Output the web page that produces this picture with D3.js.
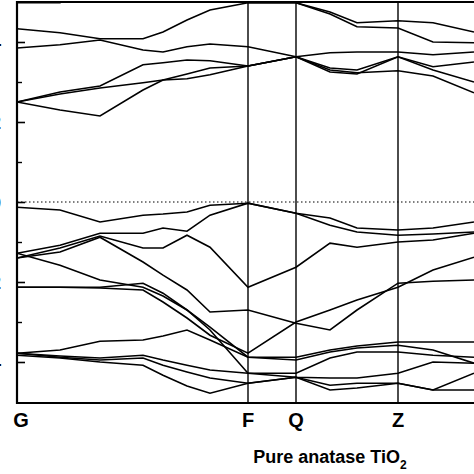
<!DOCTYPE html>
<html>
<head>
<meta charset="utf-8">
<script src="https://cdn.jsdelivr.net/npm/d3@7"></script>
<style>
  body { margin: 0; background: #fff; }
  text { font-family: "Liberation Sans", Arial, sans-serif; font-weight: bold; }
</style>
</head>
<body>
<svg id="chart" width="474" height="474"></svg>
<script>
// k-path positions (arbitrary units) and high-symmetry points
var kPoints = [0, 43, 83, 126, 146, 170, 193, 231, 279, 313, 340, 381, 416, 457];
var symLabels = ["G", "F", "Q", "Z"];
var symK = [0, 231, 279, 381];
var yTicks = [-4, -2, 0, 2, 4];
var yMinor = [-3, -1, 1, 3];

// conduction bands (eV)
var conduction = [
  [4.98, 4.98, 5.55, 5.55, 5.55, 5.55, 5.55, 4.98, 4.98, 4.75, 4.48, 4.53, 4.48, 4.25],
  [4.33, 4.23, 4.08, 4.08, 4.25, 4.55, 4.80, 4.98, 4.98, 4.70, 4.38, 4.35, 4.00, 3.98],
  [3.85, 3.93, 4.05, 3.80, 3.75, 3.88, 3.95, 3.88, 3.63, 3.73, 3.75, 3.75, 3.68, 3.75],
  [2.50, 2.75, 2.90, 3.43, 3.48, 3.55, 3.53, 3.40, 3.63, 3.35, 3.30, 3.63, 3.38, 3.50],
  [2.50, 2.70, 2.85, 2.98, 3.05, 3.08, 3.18, 3.40, 3.63, 3.25, 3.20, 3.63, 3.30, 3.00],
  [2.50, 2.30, 2.15, 2.80, 3.05, 3.20, 3.35, 3.40, 3.63, 3.30, 3.23, 3.28, 3.15, 2.73]
];

// valence bands (eV)
var valence = [
  [-0.13, -0.20, -0.50, -0.33, -0.30, -0.25, -0.08, -0.03, -0.28, -0.40, -0.65, -0.70, -0.65, -0.50],
  [-1.28, -1.08, -0.78, -0.78, -0.65, -0.73, -0.33, -0.03, -0.28, -0.58, -0.75, -0.83, -0.80, -0.75],
  [-1.40, -1.15, -0.85, -1.15, -1.15, -0.83, -1.13, -2.13, -1.63, -1.03, -1.13, -1.00, -0.95, -0.78],
  [-1.40, -1.25, -0.88, -1.50, -1.83, -2.20, -2.75, -2.70, -3.03, -3.20, -2.70, -2.03, -1.98, -1.95],
  [-1.28, -1.58, -1.95, -2.13, -2.35, -2.70, -3.13, -3.88, -3.88, -3.70, -3.60, -3.50, -3.50, -3.50],
  [-2.13, -2.13, -2.13, -2.03, -2.28, -2.70, -3.20, -4.28, -4.28, -3.90, -3.75, -3.75, -3.83, -3.88],
  [-2.13, -2.13, -2.15, -2.20, -2.50, -2.90, -3.33, -3.78, -3.00, -2.70, -2.45, -2.13, -1.70, -1.38],
  [-3.78, -3.70, -3.48, -3.45, -3.35, -3.20, -3.45, -3.88, -3.95, -3.75, -3.65, -3.58, -3.70, -4.03],
  [-3.78, -3.85, -3.90, -3.83, -3.95, -4.08, -4.20, -4.28, -4.38, -4.40, -4.40, -4.28, -4.00, -4.03],
  [-3.78, -3.88, -3.95, -3.90, -4.08, -4.25, -4.40, -4.53, -4.38, -4.58, -4.53, -4.53, -4.70, -4.28],
  [-3.83, -3.90, -4.00, -4.08, -4.33, -4.60, -4.78, -4.53, -4.38, -4.70, -4.65, -4.53, -4.70, -4.70]
];

var svg = d3.select("#chart");
var pLeft = 17, pTop = 2, pBottom = 403, pRight = 478;

var x = d3.scaleLinear().domain([0, 457]).range([pLeft, 474]);
var y = d3.scaleLinear().domain([-5.025, 5.0]).range([pBottom, pTop]);

svg.append("clipPath").attr("id", "clip")
  .append("rect").attr("x", pLeft).attr("y", pTop).attr("width", pRight - pLeft).attr("height", pBottom - pTop);

var line = d3.line().x((d, i) => x(kPoints[i])).y(d => y(d));

svg.append("g").attr("clip-path", "url(#clip)")
  .selectAll(".band")
  .data(conduction.concat(valence))
  .enter().append("path")
    .classed("band", true)
    .attr("d", line)
    .attr("fill", "none")
    .attr("stroke", "#000")
    .attr("stroke-width", 1.6);

// fermi level
svg.append("line")
  .attr("x1", pLeft).attr("x2", pRight)
  .attr("y1", y(0)).attr("y2", y(0))
  .attr("stroke", "#000").attr("stroke-width", 1.2)
  .attr("stroke-dasharray", "1.5,2.5");

// high-symmetry verticals
svg.selectAll(".sym")
  .data(symK.slice(1))
  .enter().append("line")
    .attr("x1", d => x(d)).attr("x2", d => x(d))
    .attr("y1", pTop).attr("y2", pBottom)
    .attr("stroke", "#000").attr("stroke-width", 1.4);

// frame
svg.append("path")
  .attr("d", "M" + pRight + "," + pTop + "H" + pLeft + "V" + pBottom + "H" + pRight)
  .attr("fill", "none").attr("stroke", "#000").attr("stroke-width", 2.2);

// y axis, ticks inward
var yAxis = d3.axisLeft(y).tickValues(yTicks).tickSize(-8).tickPadding(16)
  .tickFormat(d => d3.format("d")(d).replace("-", "\u2212"));
var ya = svg.append("g").attr("transform", "translate(" + pLeft + ",0)").call(yAxis);
ya.select(".domain").remove();
ya.selectAll(".tick line").attr("stroke-width", 1.6);
ya.selectAll("text").attr("font-size", 19).attr("fill", "#000")
  .style("font-family", "Liberation Sans, Arial, sans-serif").style("font-weight", "bold");

var yAxisMinor = d3.axisLeft(y).tickValues(yMinor).tickSize(-5).tickFormat("");
var ym = svg.append("g").attr("transform", "translate(" + pLeft + ",0)").call(yAxisMinor);
ym.select(".domain").remove();
ym.selectAll(".tick line").attr("stroke-width", 1.4);

// symmetry labels
svg.selectAll(".symlab")
  .data(symLabels)
  .enter().append("text")
    .attr("x", (d, i) => x(symK[i]) + (i === 0 ? 4 : 0))
    .attr("y", 427)
    .attr("text-anchor", "middle")
    .attr("font-size", 20)
    .text(d => d);

var title = svg.append("text")
  .attr("x", 330).attr("y", 463)
  .attr("text-anchor", "middle")
  .attr("font-size", 18);
title.append("tspan").text("Pure anatase TiO");
title.append("tspan").attr("font-size", 12).attr("dy", 6).text("2");
</script>
</body>
</html>
